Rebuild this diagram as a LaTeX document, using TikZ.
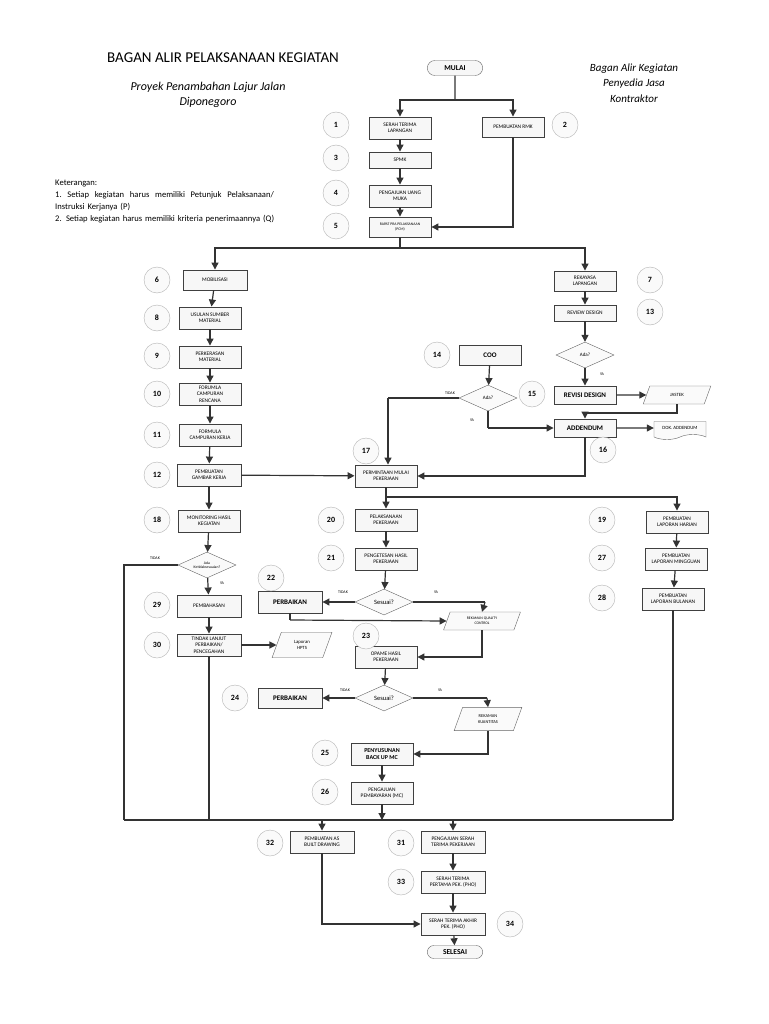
\documentclass[tikz,border=0pt]{standalone}
\usepackage{fontspec}
\setmainfont{Carlito}
\usetikzlibrary{shapes.geometric,shapes.symbols,shapes.misc,arrows.meta,shadows}
\begin{document}
\begin{tikzpicture}[x=1pt,y=-1pt,
 bx/.style={draw=black!75,fill=gray!6,line width=0.9pt,align=center,inner sep=1pt,font=\fontsize{5.4}{6.4}\selectfont,drop shadow={shadow xshift=1pt,shadow yshift=-1pt,opacity=0.3}},
 bbx/.style={bx,font=\fontsize{7}{8.5}\selectfont\bfseries},
 num/.style={circle,draw=gray!60,fill=gray!4,minimum size=26pt,inner sep=0pt,font=\fontsize{8}{9}\selectfont\bfseries},
 dia/.style={diamond,aspect=2.3,draw=black!60,fill=gray!4,inner sep=0pt,minimum width=58pt,minimum height=26pt,align=center},
 par/.style={trapezium,trapezium left angle=70,trapezium right angle=110,draw=black!60,fill=gray!4,inner sep=1pt,align=center,font=\fontsize{4.8}{5.8}\selectfont},
 term/.style={rounded rectangle,draw=black!60,fill=gray!6,font=\fontsize{7.5}{8}\selectfont\bfseries,minimum width=62pt,minimum height=15pt},
 ar/.style={-{Triangle[length=7pt,width=7pt]},draw=black!80,line width=1.2pt},
 ln/.style={draw=black!80,line width=1.1pt},
 lab/.style={font=\fontsize{4}{5}\selectfont}]
\useasboundingbox[fill=white] (0,0) rectangle (768,1024);
\node[font=\fontsize{15}{17}\selectfont] (title) at (223,58) {BAGAN ALIR PELAKSANAAN KEGIATAN};
\node[font=\fontsize{12}{15}\selectfont\itshape,align=center] (sub) at (208,95) {Proyek Penambahan Lajur Jalan\\Diponegoro};
\node[font=\fontsize{11}{15.5}\selectfont\itshape,align=center] (sub2) at (634,83) {Bagan Alir Kegiatan\\Penyedia Jasa\\Kontraktor};
\node[font=\fontsize{8.6}{12}\selectfont,align=left,anchor=north west,text width=260pt,inner sep=0pt] (ket) at (55,180) {Keterangan:\\1.\ \ Setiap\ \ kegiatan\ \ harus\ \ memiliki\ \ Petunjuk\ \ Pelaksanaan/\\Instruksi Kerjanya (P)\\2. Setiap kegiatan harus memiliki kriteria penerimaannya (Q)};
% top
\node[term] (mulai) at (455,68) {MULAI};
\node[bx,minimum width=62pt,minimum height=22pt] (b1) at (400,128) {SERAH TERIMA\\LAPANGAN};
\node[bx,minimum width=62pt,minimum height=20pt] (b2) at (513,127) {PEMBUATAN RMK};
\node[bx,minimum width=62pt,minimum height=16pt] (b3) at (400,160) {SPMK};
\node[bx,minimum width=62pt,minimum height=22pt] (b4) at (400,196) {PENGAJUAN UANG\\MUKA};
\node[bx,minimum width=62pt,minimum height=20pt,font=\fontsize{3.8}{4.6}\selectfont] (b5) at (400,227) {RAPAT PRA PELAKSANAAN\\(PCM)};
\node[num] (n1) at (336,125) {1};
\node[num] (n2) at (565,125) {2};
\node[num] (n3) at (336,158) {3};
\node[num] (n4) at (336,193) {4};
\node[num] (n5) at (336,226) {5};
\coordinate (s1) at (455,100);
\draw[ln] (mulai) -- (s1);
\draw[ar] (s1) -| (b1);
\draw[ar] (s1) -| (b2);
\draw[ar] (b1) -- (b3);
\draw[ar] (b3) -- (b4);
\draw[ar] (b4) -- (b5);
\draw[ar] (b2) |- (b5);
% second split
\coordinate (s2) at (400,248);
\draw[ln] (b5) -- (s2);
% left column
\node[bx,minimum width=64pt,minimum height=20pt] (b6) at (215,280) {MOBILISASI};
\node[bx,minimum width=62pt,minimum height=22pt] (b8) at (210,318) {USULAN SUMBER\\MATERIAL};
\node[bx,minimum width=62pt,minimum height=22pt] (b9) at (210,357) {PERKERASAN\\MATERIAL};
\node[bx,minimum width=62pt,minimum height=22pt] (b10) at (210,394) {FORUMLA\\CAMPURAN\\RENCANA};
\node[bx,minimum width=62pt,minimum height=22pt] (b11) at (210,435) {FORMULA\\CAMPURAN KERJA};
\node[bx,minimum width=64pt,minimum height=22pt] (b12) at (209,475) {PEMBUATAN\\GAMBAR KERJA};
\foreach \n/\y in {6/280,8/318,9/356,10/394,11/435,12/475} \node[num] (n\n) at (157,\y) {\n};
\draw[ar] (s2) -| (b6);
\draw[ar] (b6) -- (b8);
\draw[ar] (b8) -- (b9);
\draw[ar] (b9) -- (b10);
\draw[ar] (b10) -- (b11);
\draw[ar] (b11) -- (b12);
% right column
\node[bx,minimum width=62pt,minimum height=20pt] (b7) at (585,281) {REKAYASA\\LAPANGAN};
\node[bx,minimum width=62pt,minimum height=16pt] (b13) at (585,313) {REVIEW DESIGN};
\node[dia,font=\fontsize{5}{6}\selectfont] (d1) at (585,355) {Ada?};
\node[bbx,minimum width=62pt,minimum height=18pt] (rev) at (585,395) {REVISI DESIGN};
\node[par,minimum width=44pt,minimum height=18pt] (jas) at (677,395) {JASTEK};
\node[bbx,minimum width=62pt,minimum height=18pt] (add) at (585,428) {ADDENDUM};
\node[tape,tape bend top=none,draw=black!60,fill=gray!4,font=\fontsize{4.8}{5.8}\selectfont,minimum width=52pt,minimum height=18pt,inner sep=1pt] (dok) at (680,428) {DOK. ADDENDUM};
\node[num] (n7) at (650,280) {7};
\node[num] (n13) at (650,312) {13};
\node[num] (n16) at (603,450) {16};
\node[lab] (ya1) at (602,374) {YA};
\draw[ar] (s2) -| (b7);
\draw[ar] (b7) -- (b13);
\draw[ar] (b13) -- (d1);
\draw[ar] (d1) -- (rev);
\draw[ar] (rev) -- (jas);
\coordinate (j1) at (585,413);
\draw[ln] (jas.south) |- (j1);
\draw[ar] (j1) -- (add);
\draw[ar] (add) -- (dok);
% COO
\node[bbx,minimum width=62pt,minimum height=20pt] (coo) at (490,355) {COO};
\node[dia,font=\fontsize{5}{6}\selectfont] (d2) at (488,398) {Ada?};
\node[num] (n14) at (437,355) {14};
\node[num] (n15) at (532,394) {15};
\node[lab] (t1) at (450,393) {TIDAK};
\node[lab] (ya2) at (472,420) {YA};
\draw[ar] (coo) -- (d2);
\coordinate (c1) at (488,428);
\draw[ln] (d2) -- (c1);
\draw[ar] (c1) -- (add);
% 17
\node[bx,minimum width=62pt,minimum height=22pt] (b17) at (386,476) {PERMINTAAN MULAI\\PEKERJAAN};
\node[num] (n17) at (366,451) {17};
\coordinate (c2) at (388,398);
\draw[ln] (d2.west) -- (c2);
\draw[ar] (c2) -- (c2 |- b17.north);
\draw[ar] (add.south) |- (b17.east);
\draw[ar] (b12) -- (b17);
% row 18-20-19
\node[bx,minimum width=62pt,minimum height=22pt] (b18) at (209,521) {MONITORING HASIL\\KEGIATAN};
\node[bx,minimum width=62pt,minimum height=22pt] (b20) at (386,520) {PELAKSANAAN\\PEKERJAAN};
\node[bx,minimum width=62pt,minimum height=22pt] (b19) at (677,522) {PEMBUATAN\\LAPORAN HARIAN};
\node[bx,minimum width=62pt,minimum height=22pt] (b27) at (676,559) {PEMBUATAN\\LAPORAN MINGGUAN};
\node[bx,minimum width=62pt,minimum height=22pt] (b28) at (673,599) {PEMBUATAN\\LAPORAN BULANAN};
\node[num] (n18) at (157,520) {18};
\node[num] (n20) at (331,520) {20};
\node[num] (n19) at (602,520) {19};
\node[num] (n27) at (602,558) {27};
\node[num] (n28) at (602,598) {28};
\draw[ar] (b12) -- (b18);
\draw[ar] (b17) -- (b20);
\coordinate (c3) at (386,497);
\draw[ar] (c3) -| (b19);
\draw[ar] (b19) -- (b27);
\draw[ar] (b27) -- (b28);
% left branch
\node[dia,font=\fontsize{3.8}{4.5}\selectfont] (d3) at (207,565) {Ada\\Ketidaksesuaian?};
\node[lab] (t3) at (155,558) {TIDAK};
\node[lab] (ya3) at (222,583) {YA};
\node[bx,minimum width=64pt,minimum height=22pt] (b29) at (209,606) {PEMBAHASAN};
\node[bx,minimum width=64pt,minimum height=22pt] (b30) at (209,645) {TINDAK LANJUT\\PERBAIKAN/\\PENCEGAHAN};
\node[par,minimum width=60pt,minimum height=20pt] (hpts) at (302,645) {Laporan\\HPTS};
\node[num] (n29) at (157,605) {29};
\node[num] (n30) at (157,645) {30};
\draw[ar] (b18) -- (d3);
\draw[ar] (d3) -- (b29);
\draw[ar] (b29) -- (b30);
\draw[ar] (b30) -- (hpts);
% middle
\node[bx,minimum width=62pt,minimum height=22pt] (b21) at (386,559) {PENGETESAN HASIL\\PEKERJAAN};
\node[num] (n21) at (331,558) {21};
\node[dia,font=\fontsize{6.5}{8}\selectfont] (d4) at (384,602) {Sesuai?};
\node[bbx,minimum width=64pt,minimum height=22pt] (p22) at (290,602) {PERBAIKAN};
\node[num] (n22) at (271,578) {22};
\node[lab] (t4) at (343,592) {TIDAK};
\node[lab] (ya4) at (436,592) {YA};
\node[par,minimum width=70pt,minimum height=18pt,font=\fontsize{3.8}{4.6}\selectfont] (rqc) at (482,621) {REKAMAN QUALITY\\CONTROL};
\node[bx,minimum width=62pt,minimum height=22pt] (b23) at (386,657) {OPAME HASIL\\PEKERJAAN};
\node[num] (n23) at (366,636) {23};
\draw[ar] (b20) -- (b21);
\draw[ar] (b21) -- (d4);
\draw[ar] (d4) -- (p22);
\coordinate (c4) at (485,602);
\draw[ln] (d4.east) -- (c4);
\draw[ar] (c4) -- (rqc.north);
\coordinate (c5) at (290,620);
\draw[ln] (p22.south) -- (c5);
\draw[ar] (c5) -- (rqc.west);
\draw[ar] (rqc.south) |- (b23.east);
\node[dia,font=\fontsize{6.5}{8}\selectfont] (d5) at (384,698) {Sesuai?};
\node[bbx,minimum width=64pt,minimum height=20pt] (p24) at (290,698) {PERBAIKAN};
\node[num] (n24) at (235,698) {24};
\node[lab] (t5) at (345,690) {TIDAK};
\node[lab] (ya5) at (440,690) {YA};
\node[par,minimum width=68pt,minimum height=18pt,font=\fontsize{4.4}{5.2}\selectfont] (rk) at (488,719) {REKAMAN\\KUANTITAS};
\node[bbx,minimum width=62pt,minimum height=22pt,font=\fontsize{6}{7.5}\selectfont\bfseries] (b25) at (382,754) {PENYUSUNAN\\BACK UP MC};
\node[bx,minimum width=62pt,minimum height=22pt] (b26) at (382,793) {PENGAJUAN\\PEMBAYARAN (MC)};
\node[num] (n25) at (325,753) {25};
\node[num] (n26) at (325,792) {26};
\draw[ar] (b23) -- (d5);
\draw[ar] (d5) -- (p24);
\coordinate (c6) at (487,698);
\draw[ln] (d5.east) -- (c6);
\draw[ar] (c6) -- (rk.north);
\draw[ar] (rk.south) |- (b25.east);
\draw[ar] (b25) -- (b26);
% bottom collector
\coordinate (cl) at (124,820);
\coordinate (cr) at (673,820);
\coordinate (cm) at (382,820);
\draw[ln] (d3.west) -| (cl);
\draw[ln] (cl) -- (cr);
\draw[ln] (b28.south) -- (cr);
\draw[ln] (b30.south) -- (b30.south |- cl);
\draw[ar] (b26) -- (cm);
\node[bx,minimum width=64pt,minimum height=22pt] (b32) at (322,842) {PEMBUATAN AS\\BUILT DRAWING};
\node[bx,minimum width=64pt,minimum height=22pt] (b31) at (453,842) {PENGAJUAN SERAH\\TERIMA PEKERJAAN};
\node[bx,minimum width=64pt,minimum height=22pt] (b33) at (453,882) {SERAH TERIMA\\PERTAMA PEK. (PHO)};
\node[bx,minimum width=64pt,minimum height=22pt] (b34) at (453,924) {SERAH TERIMA AKHIR\\PEK. (PHO)};
\node[term,minimum height=13pt] (sel) at (455,952) {SELESAI};
\node[num] (n32) at (270,843) {32};
\node[num] (n31) at (401,843) {31};
\node[num] (n33) at (401,882) {33};
\node[num] (n34) at (510,924) {34};
\draw[ar] (b32 |- cl) -- (b32);
\draw[ar] (b31 |- cl) -- (b31);
\draw[ar] (b31) -- (b33);
\draw[ar] (b33) -- (b34);
\draw[ar] (b32.south) |- (b34.west);
\draw[ar] (b34) -- (sel);
\end{tikzpicture}
\end{document}
